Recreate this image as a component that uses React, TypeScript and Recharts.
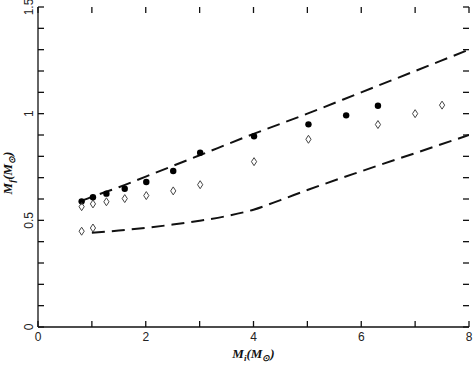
import React from 'react';
import { ComposedChart, XAxis, YAxis, Line, Scatter } from 'recharts';

// Filled circles
const filledX = [0.81, 1.02, 1.27, 1.61, 2.01, 2.51, 3.01, 4.01, 5.02, 5.72, 6.31];
const filledY = [0.589, 0.608, 0.625, 0.648, 0.68, 0.731, 0.817, 0.894, 0.95, 0.992, 1.037];

// Open diamonds
const diamondX = [0.81, 1.02, 1.27, 1.61, 2.01, 2.51, 3.01, 4.01, 5.02, 6.31, 7.0, 7.5, 0.81, 1.02];
const diamondY = [0.564, 0.577, 0.587, 0.602, 0.616, 0.638, 0.667, 0.775, 0.88, 0.949, 1.0, 1.04, 0.449, 0.464];

// Upper dashed curve
const upperX = [0.8, 1, 1.5, 2, 2.5, 3, 4, 5, 6, 7, 8];
const upperY = [0.59, 0.61, 0.655, 0.705, 0.755, 0.805, 0.905, 1.0, 1.1, 1.2, 1.3];

// Lower dashed curve
const lowerX = [1, 1.5, 2, 2.5, 3, 3.5, 4, 4.5, 5, 6, 7, 8];
const lowerY = [0.442, 0.452, 0.465, 0.48, 0.498, 0.52, 0.55, 0.595, 0.642, 0.73, 0.815, 0.9];

const xTicks = [0, 1, 2, 3, 4, 5, 6, 7, 8];
const xLabelTicks = [0, 2, 4, 6, 8];
const yTicks = [0, 0.1, 0.2, 0.3, 0.4, 0.5, 0.6, 0.7, 0.8, 0.9, 1, 1.1, 1.2, 1.3, 1.4, 1.5];
const yLabelTicks = ['0', '0.5', '1', '1.5'];

const zip = (xs: number[], ys: number[]) => xs.map((x, i) => ({ x, y: ys[i] }));
const filledData = zip(filledX, filledY);
const diamondData = zip(diamondX, diamondY);
const upperData = zip(upperX, upperY);
const lowerData = zip(lowerX, lowerY);

const W = 474;
const H = 366;
const MARGIN = { top: 7, right: 5, bottom: 0, left: 0 };
const X_AXIS_H = 39;
const Y_AXIS_W = 38;
const PLOT_W = W - MARGIN.left - MARGIN.right - Y_AXIS_W;
const PLOT_H = H - MARGIN.top - MARGIN.bottom - X_AXIS_H;

const tickFont = '"Liberation Sans", Arial, sans-serif';
const labelFont = '"Liberation Serif", "Times New Roman", serif';
const TL = 6;
const TW = 1.3;
const ink = '#111';

// bottom tick (plus mirrored tick on top frame edge)
const XTick = (props: any) => {
  const { x, y, payload } = props;
  const show = xLabelTicks.includes(payload.value);
  return (
    <g>
      <line x1={x} y1={y} x2={x} y2={y - TL} stroke={ink} strokeWidth={TW} />
      <line x1={x} y1={y - PLOT_H} x2={x} y2={y - PLOT_H + TL} stroke={ink} strokeWidth={TW} />
      {show && (
        <text x={x} y={y + 10} textAnchor="middle" dominantBaseline="central" fontFamily={tickFont} fontSize={12} fill="#222">
          {String(payload.value)}
        </text>
      )}
    </g>
  );
};

// left tick (plus mirrored tick on right frame edge)
const YTick = (props: any) => {
  const { x, y, payload } = props;
  const lbl = String(Math.round(payload.value * 10) / 10);
  const show = yLabelTicks.includes(lbl);
  const tx = x - 9;
  return (
    <g>
      <line x1={x} y1={y} x2={x + TL} y2={y} stroke={ink} strokeWidth={TW} />
      <line x1={x + PLOT_W} y1={y} x2={x + PLOT_W - TL} y2={y} stroke={ink} strokeWidth={TW} />
      {show && (
        <text x={tx} y={y} transform={`rotate(-90 ${tx} ${y})`} textAnchor="middle" dominantBaseline="central" fontFamily={tickFont} fontSize={12} fill="#222">
          {lbl}
        </text>
      )}
    </g>
  );
};

const XLabel = (props: any) => {
  const vb = props.viewBox || { x: 0, y: 0, width: 0, height: 0 };
  const cx = vb.x + vb.width / 2;
  const cy = vb.y + 31;
  return (
    <text x={cx} y={cy} textAnchor="middle" fontFamily={labelFont} fontWeight="bold" fontStyle="italic" fontSize={13} fill="#111">
      <tspan>M</tspan>
      <tspan fontSize={9} dy={3}>i</tspan>
      <tspan dy={-3}>(M</tspan>
      <tspan fontSize={9} dy={3}>⊙</tspan>
      <tspan dy={-3}>)</tspan>
    </text>
  );
};

const YLabel = (props: any) => {
  const vb = props.viewBox || { x: 0, y: 0, width: 0, height: 0 };
  const cx = 12;
  const cy = vb.y + vb.height / 2 + 6;
  return (
    <text x={cx} y={cy} transform={`rotate(-90 ${cx} ${cy})`} textAnchor="middle" fontFamily={labelFont} fontWeight="bold" fontStyle="italic" fontSize={13} fill="#111">
      <tspan>M</tspan>
      <tspan fontSize={9} dy={3}>f</tspan>
      <tspan dy={-3}>(M</tspan>
      <tspan fontSize={9} dy={3}>⊙</tspan>
      <tspan dy={-3}>)</tspan>
    </text>
  );
};

const Diamond = (props: any) => {
  const { cx, cy } = props;
  return (
    <path
      d={`M${cx},${cy - 4} L${cx + 2.6},${cy} L${cx},${cy + 4} L${cx - 2.6},${cy} Z`}
      fill="none"
      stroke="#444"
      strokeWidth={1}
    />
  );
};

const Dot = (props: any) => {
  const { cx, cy } = props;
  return <circle cx={cx} cy={cy} r={3.2} fill="#000" />;
};

const axisStroke = { stroke: ink, strokeWidth: 1.3 };

export default function App() {
  return (
    <div style={{ position: 'absolute', left: 0, top: 0, background: '#fff' }}>
      <ComposedChart width={W} height={H} margin={MARGIN}>
        <XAxis xAxisId="b" type="number" dataKey="x" domain={[0, 8]} ticks={xTicks} interval={0} height={X_AXIS_H}
          tickSize={0} tickMargin={0} axisLine={axisStroke} tickLine={false} tick={<XTick />} allowDataOverflow label={<XLabel />} />
        <XAxis xAxisId="t" orientation="top" type="number" dataKey="x" domain={[0, 8]} ticks={xTicks} interval={0} height={0}
          tickSize={0} tickMargin={0} axisLine={axisStroke} tickLine={false} tick={false} allowDataOverflow />
        <YAxis yAxisId="l" type="number" dataKey="y" domain={[0, 1.5]} ticks={yTicks} interval={0} width={Y_AXIS_W}
          tickSize={0} tickMargin={0} axisLine={axisStroke} tickLine={false} tick={<YTick />} allowDataOverflow label={<YLabel />} />
        <YAxis yAxisId="r" orientation="right" type="number" dataKey="y" domain={[0, 1.5]} ticks={yTicks} interval={0} width={0}
          tickSize={0} tickMargin={0} axisLine={axisStroke} tickLine={false} tick={false} allowDataOverflow />
        <Line xAxisId="b" yAxisId="l" data={upperData} dataKey="y" type="monotone" stroke="#111" strokeWidth={2}
          strokeDasharray="13 7" dot={false} isAnimationActive={false} />
        <Line xAxisId="b" yAxisId="l" data={lowerData} dataKey="y" type="monotone" stroke="#111" strokeWidth={2}
          strokeDasharray="13 7" dot={false} isAnimationActive={false} />
        <Scatter xAxisId="b" yAxisId="l" data={filledData} dataKey="y" shape={<Dot />} isAnimationActive={false} />
        <Scatter xAxisId="b" yAxisId="l" data={diamondData} dataKey="y" shape={<Diamond />} isAnimationActive={false} />
      </ComposedChart>
    </div>
  );
}
